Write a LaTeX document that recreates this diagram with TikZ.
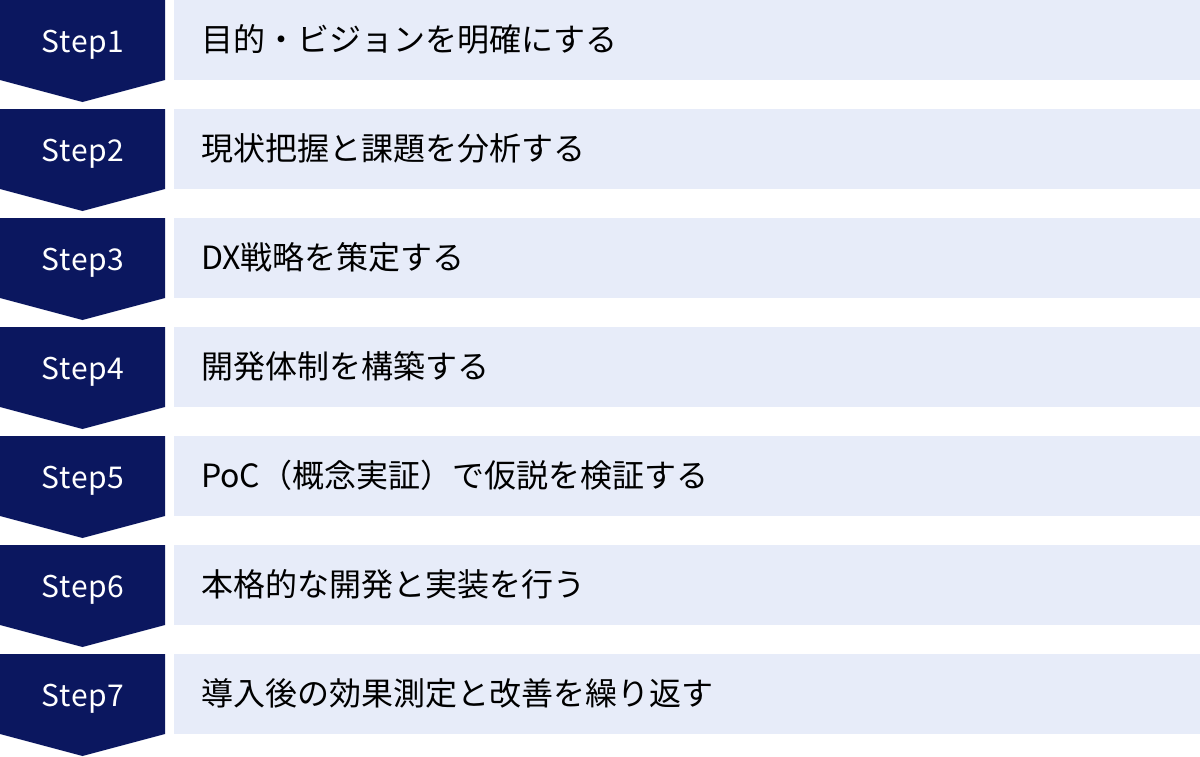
\documentclass[tikz,border=0pt]{standalone}
\usepackage{fontspec}
\newfontfamily\jp{Noto Sans CJK JP}
\newfontfamily\stepfont[LetterSpace=2]{Noto Sans CJK JP}
\definecolor{navy}{HTML}{0B175F}
\definecolor{pale}{HTML}{E7ECF9}
\begin{document}
\begin{tikzpicture}[x=1pt,y=-1pt,
  chev/.style={fill=navy,draw=none},
  bar/.style={fill=pale,draw=none,anchor=north west,minimum width=1026pt,minimum height=80pt,inner sep=0pt},
  steplabel/.style={text=white,font=\stepfont\fontsize{30}{34}\selectfont,inner sep=0pt,anchor=base},
  desc/.style={text=black,font=\jp\fontsize{32}{36}\selectfont,anchor=base west,inner sep=0pt}]
\useasboundingbox (0,0) rectangle (1200,756);
\foreach \k/\txt in {1/目的・ビジョンを明確にする,2/現状把握と課題を分析する,3/DX戦略を策定する,4/開発体制を構築する,5/PoC（概念実証）で仮説を検証する,6/本格的な開発と実装を行う,7/導入後の効果測定と改善を繰り返す}{
  \pgfmathsetmacro{\t}{(\k-1)*109}
  \fill[chev] (0,\t) -- (165,\t) -- (165,\t+80) -- (82.5,\t+102) -- (0,\t+80) -- cycle;
  \node[bar] (bar\k) at (174,\t) {};
  \node[steplabel] (step\k) at (83,\t+52) {Step\k};
  \node[desc] (desc\k) at (201,\t+51) {\txt};
}
\end{tikzpicture}
\end{document}
